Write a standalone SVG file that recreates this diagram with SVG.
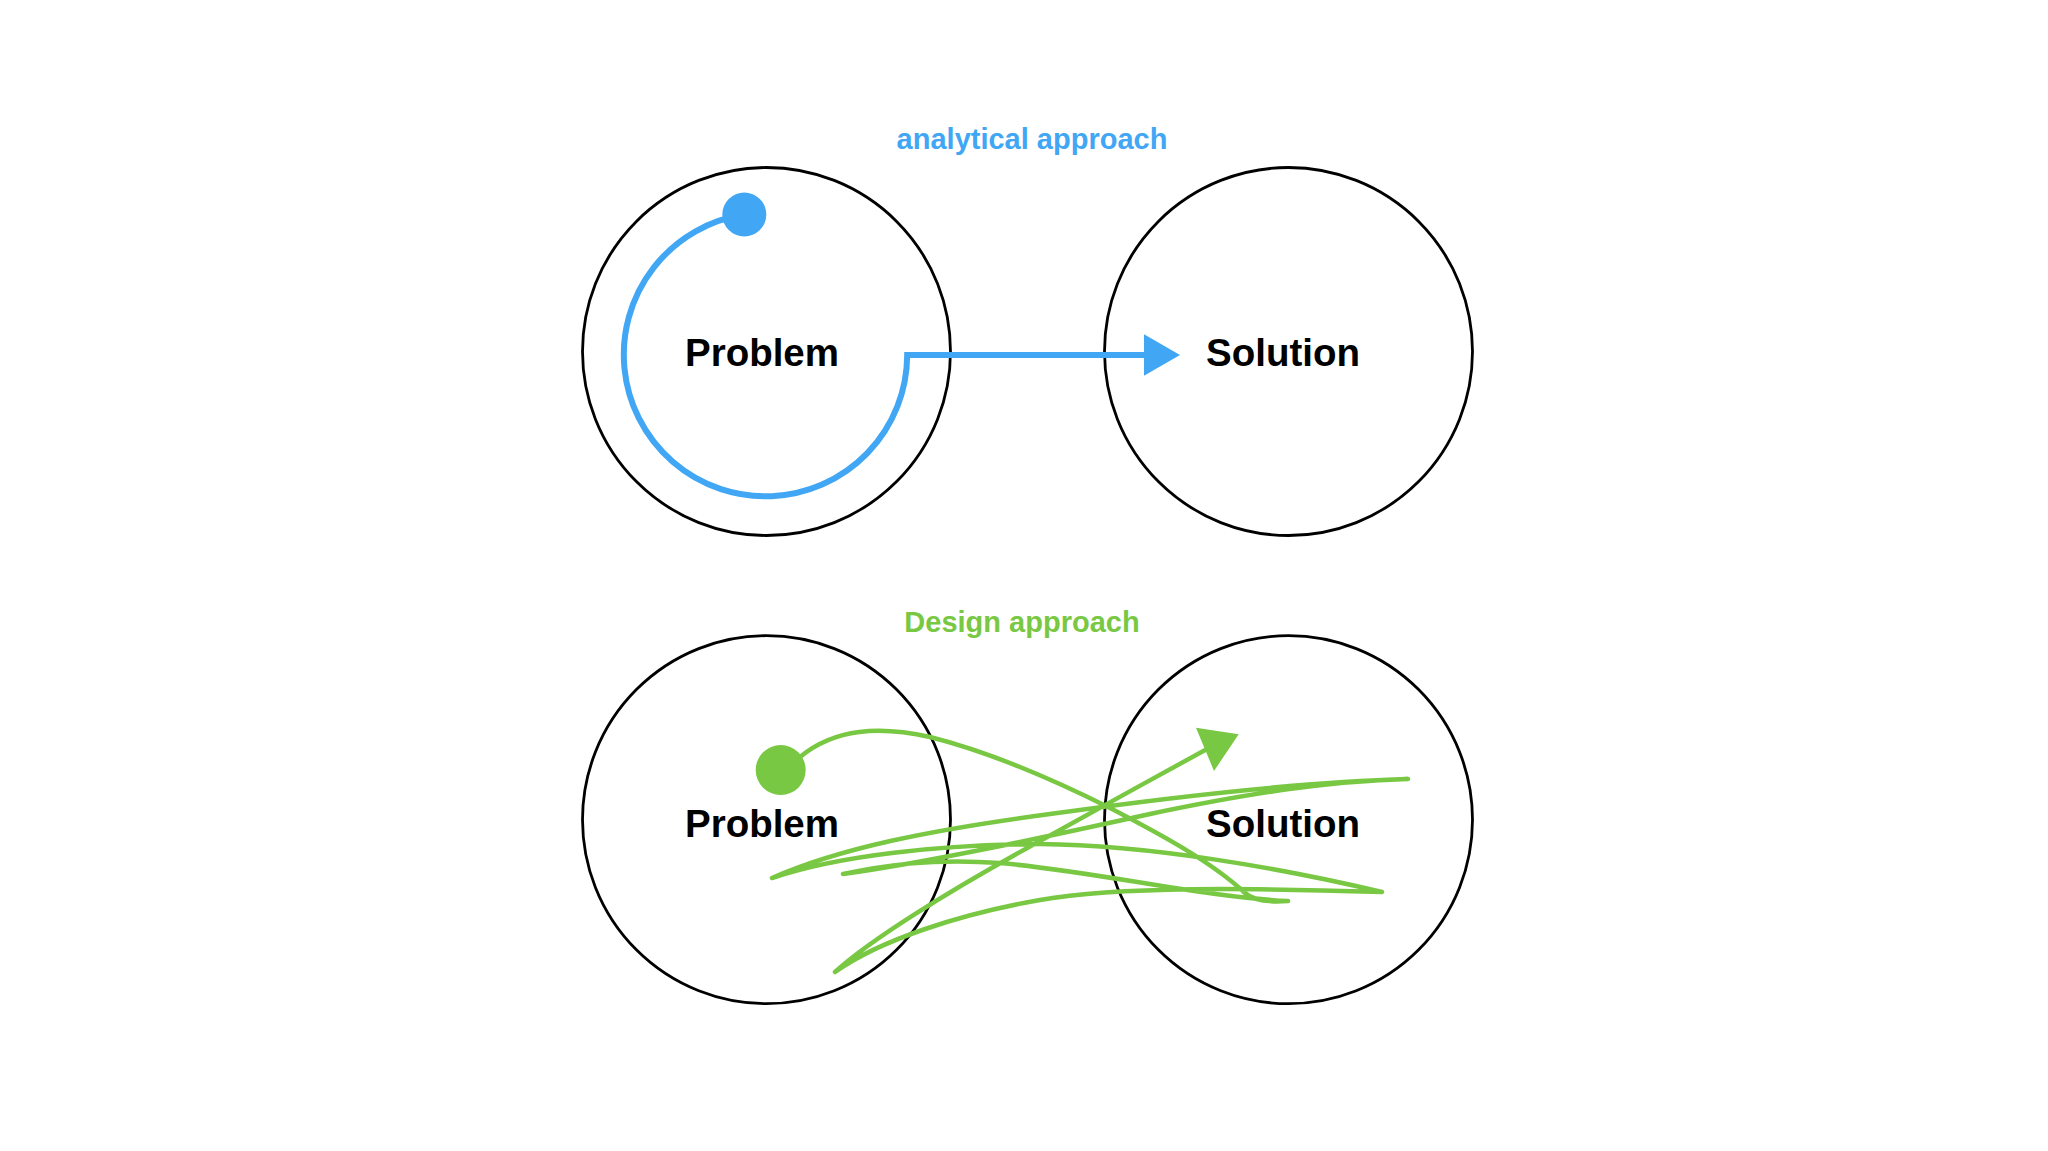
<svg xmlns="http://www.w3.org/2000/svg" width="2048" height="1151" viewBox="0 0 2048 1151">
<style>
.node{fill:none;stroke:#000;stroke-width:2.8}
.lbl{font-family:"Liberation Sans",Arial,sans-serif;font-weight:bold;font-size:38.5px;fill:#000;text-anchor:middle}
.head{font-family:"Liberation Sans",Arial,sans-serif;font-weight:bold;font-size:29px;text-anchor:middle}
.blue{stroke:#41A6F4;fill:none;stroke-width:6}
.green{stroke:#79C843;fill:none;stroke-width:4.5;stroke-linecap:round;stroke-linejoin:round}
</style>
<rect width="2048" height="1151" fill="#fff"/>
<text class="head" x="1032" y="149" fill="#41A6F4">analytical approach</text>
<text class="head" x="1022" y="632" fill="#79C843">Design approach</text>
<g id="problem-top">
<circle class="node" cx="766.5" cy="351.5" r="184"/>
<text class="lbl" x="762" y="365.5">Problem</text>
</g>
<g id="solution-top">
<circle class="node" cx="1288.5" cy="351.5" r="184"/>
<text class="lbl" x="1283" y="365.5">Solution</text>
</g>
<g id="problem-bottom">
<circle class="node" cx="766.5" cy="819.7" r="184"/>
<text class="lbl" x="762" y="836.5">Problem</text>
</g>
<g id="solution-bottom">
<circle class="node" cx="1288.5" cy="819.7" r="184"/>
<text class="lbl" x="1283" y="836.5">Solution</text>
</g>
<g id="connectors">
<circle cx="744.3" cy="214.5" r="22" fill="#41A6F4"/>
<path class="blue" d="M744.3 214.5 A141.7 141.7 0 1 0 907.2 355.6 L907.2 355 L1146 355"/>
<polygon points="1144,334.3 1180,355 1144,375.7" fill="#41A6F4"/>
<circle cx="780.7" cy="770" r="25" fill="#79C843"/>
<path class="green" d="M800 757 C835 728 880 726 930 737 C990 752 1060 783 1110 808 C1160 834 1212 862 1245 893 C1255 902 1275 902 1288 901 C1200 897 1100 872 1000 863 C930 858 880 866 843 874 C930 862 1050 836 1150 814 C1250 793 1330 781 1408 779 C1300 782 1150 800 1050 814 C930 830 840 848 772 878 C840 855 940 845 1040 844 C1150 845 1280 868 1382 892 C1250 888 1120 886 1040 900 C960 914 880 940 835 972 C870 940 950 890 1040 841 C1100 808 1150 780 1207 749"/>
<polygon points="1196,727.7 1238.7,734.3 1214,771" fill="#79C843"/>
</g>
</svg>
